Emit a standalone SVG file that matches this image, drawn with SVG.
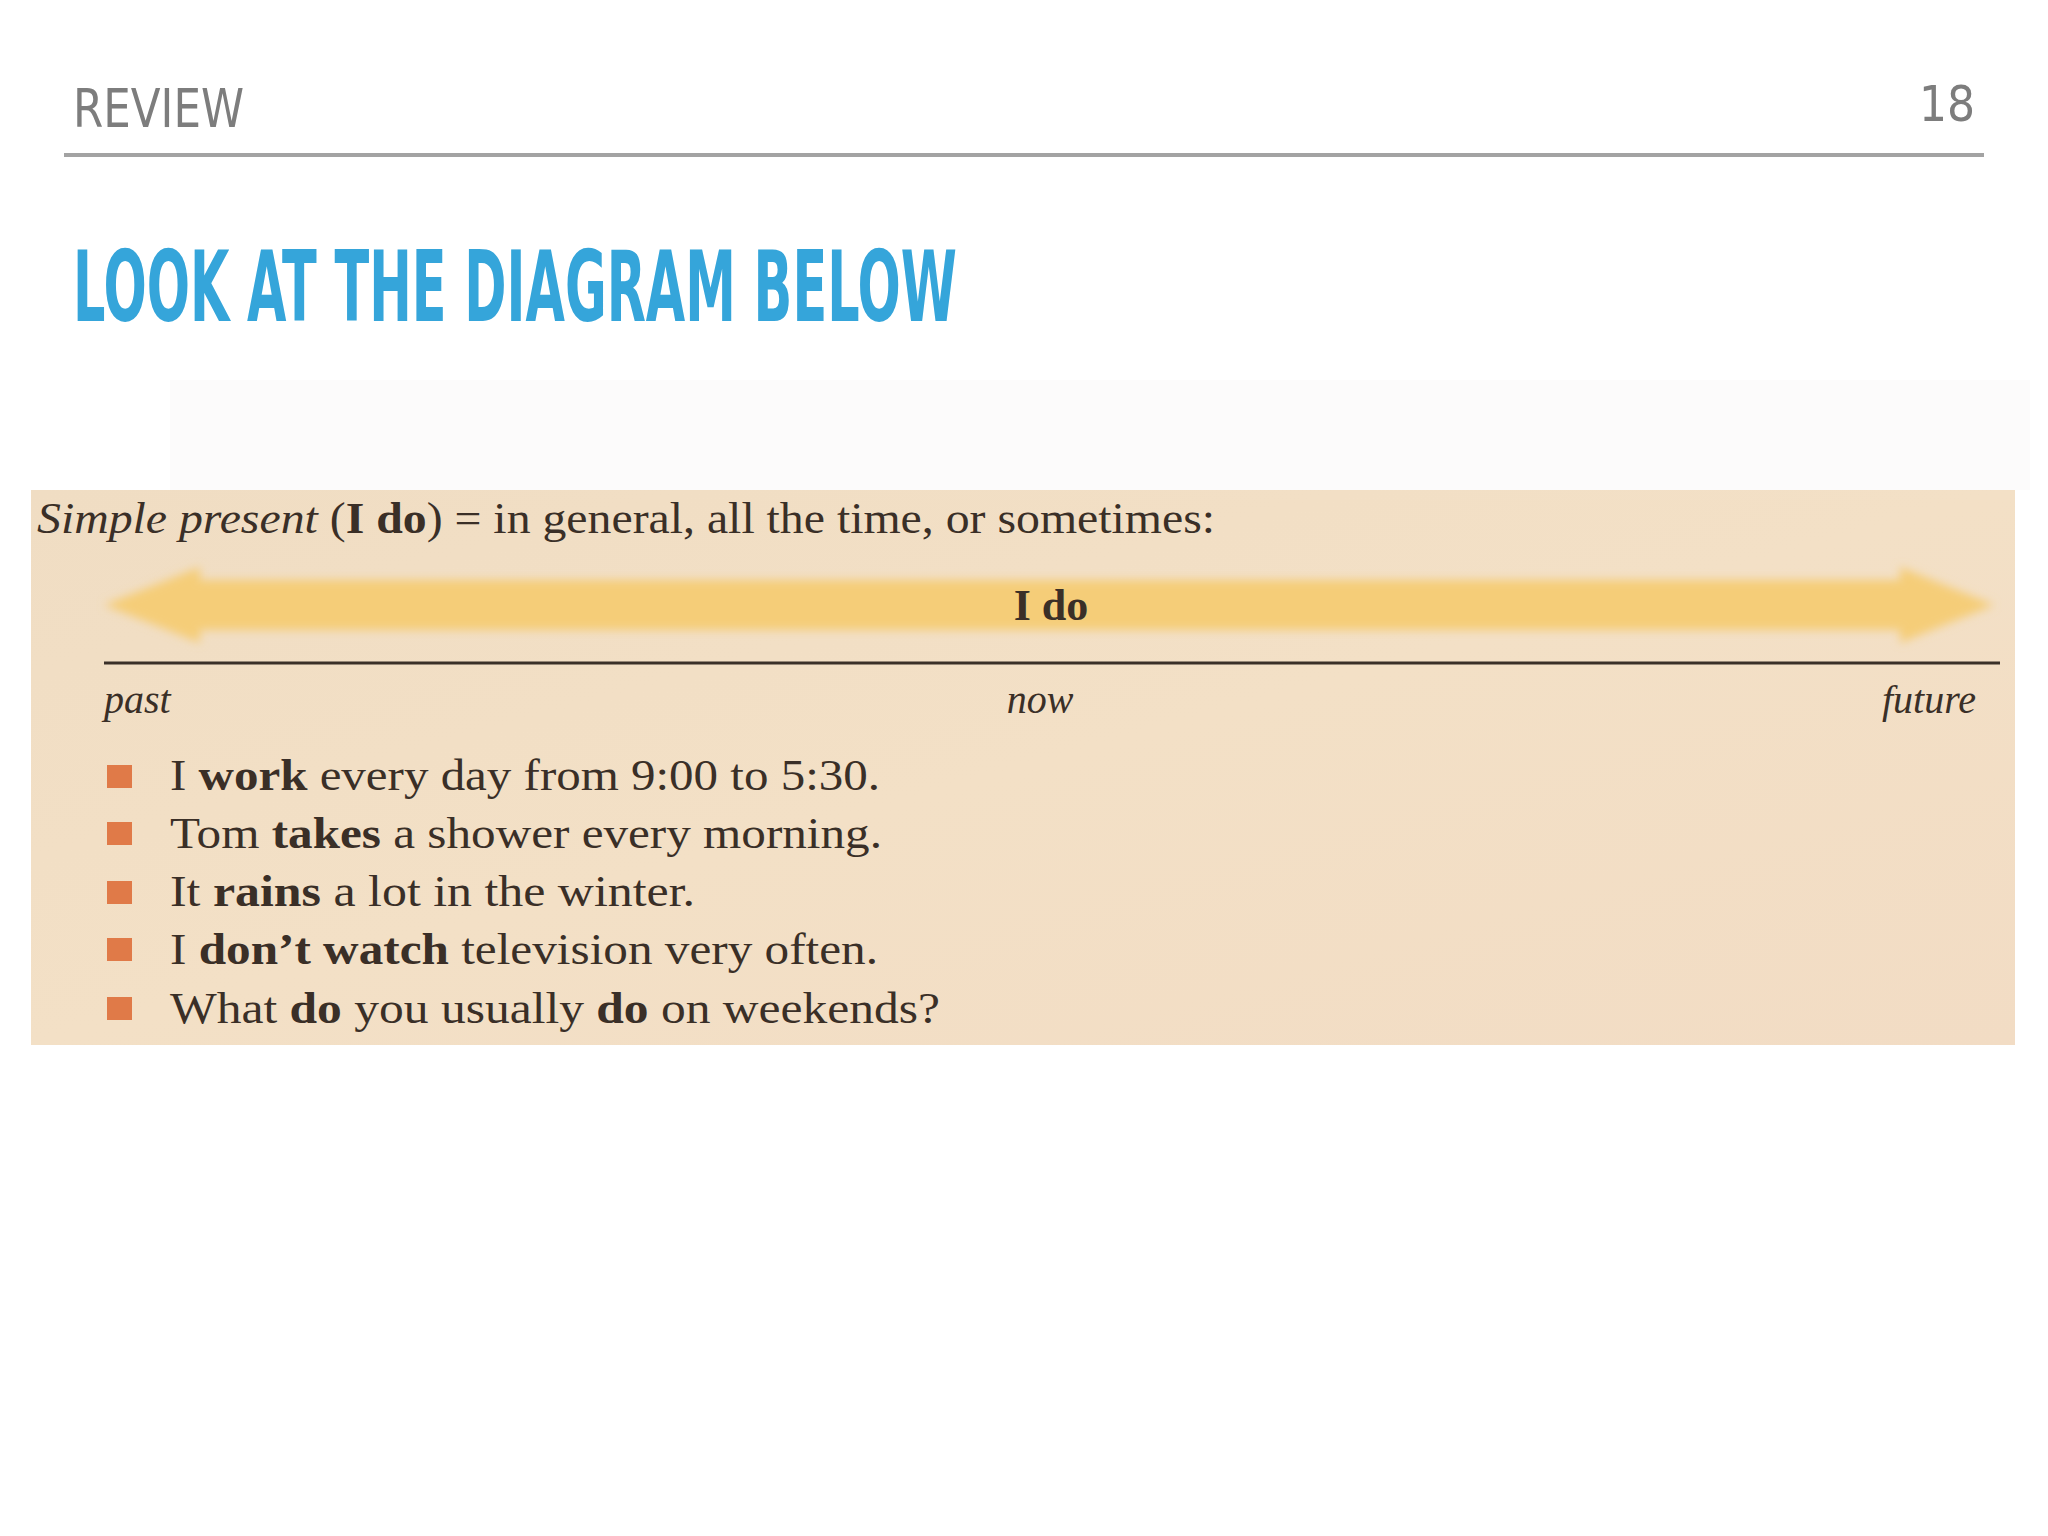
<svg xmlns="http://www.w3.org/2000/svg" width="2048" height="1536" viewBox="0 0 2048 1536">
  <style>
    .hdr { font-family: "Liberation Sans Narrow", "DejaVu Sans Condensed", "Liberation Sans", sans-serif; }
    .ser { font-family: "Liberation Serif", "DejaVu Serif", serif; fill: #3a2f27; }
    .it { font-style: italic; }
    .b { font-weight: bold; }
    .bullet { fill: #e07a48; }
  </style>
  <defs>
    <linearGradient id="paper" x1="0" y1="0" x2="1" y2="1">
      <stop offset="0" stop-color="#f0ddc3"/>
      <stop offset="0.5" stop-color="#f3e0c6"/>
      <stop offset="1" stop-color="#f2dcc4"/>
    </linearGradient>
    <filter id="blur" x="-5%" y="-50%" width="110%" height="200%">
      <feGaussianBlur stdDeviation="5"/>
    </filter>
  </defs>

  <rect width="2048" height="1536" fill="#ffffff"/>
  <rect x="170" y="380" width="1860" height="110" fill="#fcfbfb"/>

  <g id="header">
    <text class="hdr" x="73" y="127" font-size="53" fill="#7d7d7d" textLength="171" lengthAdjust="spacingAndGlyphs">REVIEW</text>
    <text class="hdr" x="1975" y="121" font-size="49" fill="#7d7d7d" text-anchor="end">18</text>
    <line x1="64" y1="155" x2="1984" y2="155" stroke="#a3a3a3" stroke-width="4"/>
  </g>

  <g id="title">
    <text class="hdr" x="73" y="321" font-size="98" font-weight="bold" fill="#35a5da" textLength="884" lengthAdjust="spacingAndGlyphs">LOOK AT THE DIAGRAM BELOW</text>
  </g>

  <g id="panel">
    <rect x="31" y="490" width="1984" height="555" fill="url(#paper)"/>
    <text class="ser" x="37" y="533" font-size="44" textLength="1178" lengthAdjust="spacingAndGlyphs"><tspan class="it">Simple present</tspan> (<tspan class="b">I do</tspan>) = in general, all the time, or sometimes:</text>
  </g>

  <g id="connectors">
    <path d="M104,605 L200,567 L200,580 L1900,580 L1900,567 L1994,605 L1900,643 L1900,630 L200,630 L200,643 Z" fill="#f5cd78" filter="url(#blur)"/>
    <line x1="104" y1="663" x2="2000" y2="663" stroke="#3a3028" stroke-width="3"/>
  </g>

  <g id="label-ido">
    <text class="ser b" x="1051" y="620" font-size="44" text-anchor="middle">I do</text>
  </g>
  <g id="label-past"><text class="ser it" x="104" y="713" font-size="40">past</text></g>
  <g id="label-now"><text class="ser it" x="1040" y="713" font-size="40" text-anchor="middle">now</text></g>
  <g id="label-future"><text class="ser it" x="1976" y="713" font-size="40" text-anchor="end">future</text></g>

  <g id="examples">
    <rect class="bullet" x="107" y="765" width="25" height="23"/>
    <rect class="bullet" x="107" y="822" width="25" height="23"/>
    <rect class="bullet" x="107" y="881" width="25" height="23"/>
    <rect class="bullet" x="107" y="938" width="25" height="23"/>
    <rect class="bullet" x="107" y="997" width="25" height="23"/>
    <text class="ser" x="170" y="790" font-size="44" textLength="710" lengthAdjust="spacingAndGlyphs">I <tspan class="b">work</tspan> every day from 9:00 to 5:30.</text>
    <text class="ser" x="170" y="848" font-size="44" textLength="712" lengthAdjust="spacingAndGlyphs">Tom <tspan class="b">takes</tspan> a shower every morning.</text>
    <text class="ser" x="170" y="906" font-size="44" textLength="525" lengthAdjust="spacingAndGlyphs">It <tspan class="b">rains</tspan> a lot in the winter.</text>
    <text class="ser" x="170" y="964" font-size="44" textLength="708" lengthAdjust="spacingAndGlyphs">I <tspan class="b">don’t watch</tspan> television very often.</text>
    <text class="ser" x="170" y="1023" font-size="44" textLength="770" lengthAdjust="spacingAndGlyphs">What <tspan class="b">do</tspan> you usually <tspan class="b">do</tspan> on weekends?</text>
  </g>
</svg>
